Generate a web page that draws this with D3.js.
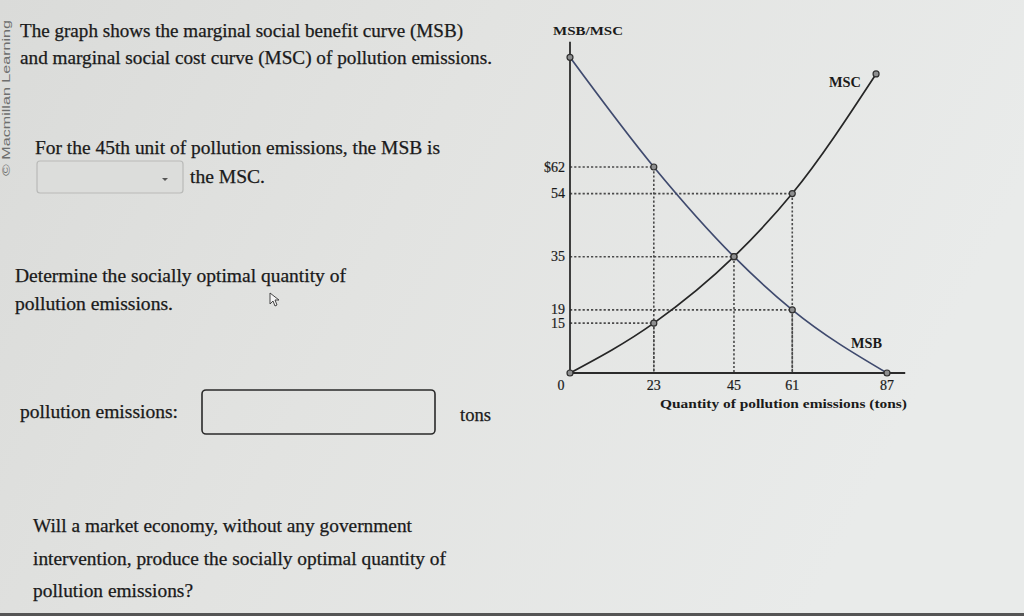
<!DOCTYPE html>
<html>
<head>
<meta charset="utf-8">
<script src="https://cdn.jsdelivr.net/npm/d3@7"></script>
<style>
  body { margin: 0; overflow: hidden; }
  svg { display: block; font-family: "Liberation Serif", "DejaVu Serif", serif; }
</style>
</head>
<body>
<svg id="canvas" width="1024" height="616"></svg>
<script>
// chart values
let msbQty = [0, 23, 45, 61, 87];
let msbVal = [95, 62, 35, 19, 0];
let mscQty = [0, 23, 45, 61, 84];
let mscVal = [0, 15, 35, 54, 90];
let xTicks = [0, 23, 45, 61, 87];
let yTicks = [62, 54, 35, 19, 15];
let yTickLabels = ["$62", "54", "35", "19", "15"];
// guide points: [quantity, value]
let guides = [[23, 62], [61, 54], [45, 35], [61, 19], [23, 15]];

let canvas = d3.select("#canvas");

// background, a photo of a screen
let defs = canvas.append("defs");
let grad = defs.append("linearGradient").attr("id", "bg").attr("x1", 0).attr("x2", 1).attr("y1", 0).attr("y2", 0.3);
grad.append("stop").attr("offset", "0%").attr("stop-color", "#dadbd9");
grad.append("stop").attr("offset", "45%").attr("stop-color", "#e2e3e1");
grad.append("stop").attr("offset", "100%").attr("stop-color", "#e9ebea");
canvas.append("rect").attr("width", 1024).attr("height", 616).attr("fill", "url(#bg)");

let ink = "#1a1a1a";

// ---- question text on the left ----
let prose = [
  { t: "The graph shows the marginal social benefit curve (MSB)", x: 20, y: 37, w: 443 },
  { t: "and marginal social cost curve (MSC) of pollution emissions.", x: 20, y: 64, w: 472 },
  { t: "For the 45th unit of pollution emissions, the MSB is", x: 35, y: 154, w: 405 },
  { t: "the MSC.", x: 190, y: 183, w: 75 },
  { t: "Determine the socially optimal quantity of", x: 15, y: 282, w: 331 },
  { t: "pollution emissions.", x: 15, y: 310, w: 158 },
  { t: "pollution emissions:", x: 20, y: 418, w: 158 },
  { t: "tons", x: 460, y: 421, w: 31 },
  { t: "Will a market economy, without any government", x: 33, y: 532, w: 379 },
  { t: "intervention, produce the socially optimal quantity of", x: 33, y: 565, w: 413 },
  { t: "pollution emissions?", x: 33, y: 597, w: 160 },
  { t: "No, it will produce", x: 64, y: 626, w: 150 }
];
canvas.append("g").selectAll("text").data(prose).enter().append("text")
  .attr("x", d => d.x).attr("y", d => d.y)
  .attr("textLength", d => d.w).attr("lengthAdjust", "spacingAndGlyphs")
  .attr("font-size", 18).attr("fill", ink)
  .attr("stroke", ink).attr("stroke-width", 0.25)
  .text(d => d.t);

// dropdown box
canvas.append("rect").attr("x", 37).attr("y", 161).attr("width", 146).attr("height", 32).attr("rx", 3)
  .attr("fill", "#dcdddb").attr("stroke", "#b9bab8").attr("stroke-width", 1.2);
canvas.append("path").attr("d", "M162,178 L168,178 L165,181 Z").attr("fill", "#555");

// answer box
canvas.append("rect").attr("x", 202).attr("y", 390).attr("width", 233).attr("height", 44).attr("rx", 4)
  .attr("fill", "none").attr("stroke", "#2a2a2a").attr("stroke-width", 1.6);

// radio button cut off at the bottom
canvas.append("circle").attr("cx", 47).attr("cy", 623).attr("r", 9)
  .attr("fill", "none").attr("stroke", "#333").attr("stroke-width", 1.5);
canvas.append("rect").attr("x", 0).attr("y", 613).attr("width", 1024).attr("height", 3).attr("fill", "#555");

// mouse cursor
canvas.append("path").attr("d", "M270,293 L270,304 L273,301 L275,306 L277,305 L275,300 L279,300 Z")
  .attr("fill", "#f4f4f4").attr("stroke", "#333").attr("stroke-width", 0.9);

// copyright, rotated on the left edge
canvas.append("text").attr("transform", "translate(10,176) rotate(-90)")
  .attr("font-family", "'Liberation Sans', sans-serif").attr("font-size", 11)
  .attr("textLength", 156).attr("lengthAdjust", "spacingAndGlyphs")
  .attr("fill", "#6e6f6e").text("© Macmillan Learning");

// ---- the graph ----
let x = d3.scaleLinear().domain([0, 87]).range([570, 887]);
let y = d3.scaleLinear().domain([0, 62]).range([373, 167]);

let chart = canvas.append("g");

// dashed guides
let guideStyle = sel => sel.attr("stroke", "#4a4a4a").attr("stroke-width", 1.6).attr("stroke-dasharray", "2.2,2");
chart.selectAll(".hguide").data(guides).enter().append("line").attr("class", "hguide")
  .attr("x1", x(0)).attr("x2", d => x(d[0])).attr("y1", d => y(d[1])).attr("y2", d => y(d[1]))
  .call(guideStyle);
chart.selectAll(".vguide").data(guides).enter().append("line").attr("class", "vguide")
  .attr("x1", d => x(d[0])).attr("x2", d => x(d[0])).attr("y1", d => y(d[1])).attr("y2", y(0))
  .call(guideStyle);

// axes
chart.append("line").attr("x1", x(0)).attr("x2", x(0)).attr("y1", y(0)).attr("y2", y(99.7))
  .attr("stroke", "#2b2b2b").attr("stroke-width", 1.8);
chart.append("line").attr("x1", x(0)).attr("x2", x(92)).attr("y1", y(0)).attr("y2", y(0))
  .attr("stroke", "#2b2b2b").attr("stroke-width", 1.8);

// curves
let line = d3.line().x(d => x(d[0])).y(d => y(d[1])).curve(d3.curveMonotoneX);
let msbPts = msbQty.map((q, i) => [q, msbVal[i]]);
let mscPts = mscQty.map((q, i) => [q, mscVal[i]]);
chart.append("path").attr("d", line(msbPts)).attr("fill", "none")
  .attr("stroke", "#3f4a6e").attr("stroke-width", 1.7);
chart.append("path").attr("d", line(mscPts)).attr("fill", "none")
  .attr("stroke", "#262626").attr("stroke-width", 1.7);

// points
chart.selectAll(".pt").data(msbPts.concat(mscPts)).enter().append("circle").attr("class", "pt")
  .attr("cx", d => x(d[0])).attr("cy", d => y(d[1])).attr("r", 3)
  .attr("fill", "#8e8f90").attr("stroke", "#303030").attr("stroke-width", 1.2);

// tick labels
chart.selectAll(".ylab").data(yTicks).enter().append("text").attr("class", "ylab")
  .attr("x", x(0) - 5).attr("y", d => y(d) + 4.5).attr("text-anchor", "end")
  .attr("font-size", 14).attr("fill", ink).attr("stroke", ink).attr("stroke-width", 0.2)
  .text((d, i) => yTickLabels[i]);
chart.selectAll(".xlab").data(xTicks).enter().append("text").attr("class", "xlab")
  .attr("x", d => d === 0 ? x(0) - 9 : x(d)).attr("y", 390).attr("text-anchor", "middle")
  .attr("font-size", 14).attr("fill", ink).attr("stroke", ink).attr("stroke-width", 0.2)
  .text(d => d);

// axis titles and curve names
chart.append("text").attr("x", 553).attr("y", 35).attr("font-size", 13).attr("font-weight", "bold")
  .attr("textLength", 70).attr("lengthAdjust", "spacingAndGlyphs").attr("fill", ink).text("MSB/MSC");
chart.append("text").attr("x", 907).attr("y", 408).attr("text-anchor", "end")
  .attr("font-size", 13).attr("font-weight", "bold")
  .attr("textLength", 247).attr("lengthAdjust", "spacingAndGlyphs").attr("fill", ink)
  .text("Quantity of pollution emissions (tons)");
chart.append("text").attr("x", 829).attr("y", 87).attr("font-size", 14).attr("font-weight", "bold")
  .attr("textLength", 32).attr("lengthAdjust", "spacingAndGlyphs").attr("fill", ink).text("MSC");
chart.append("text").attr("x", 851).attr("y", 348).attr("font-size", 14).attr("font-weight", "bold")
  .attr("textLength", 31).attr("lengthAdjust", "spacingAndGlyphs").attr("fill", ink).text("MSB");
</script>
</body>
</html>
